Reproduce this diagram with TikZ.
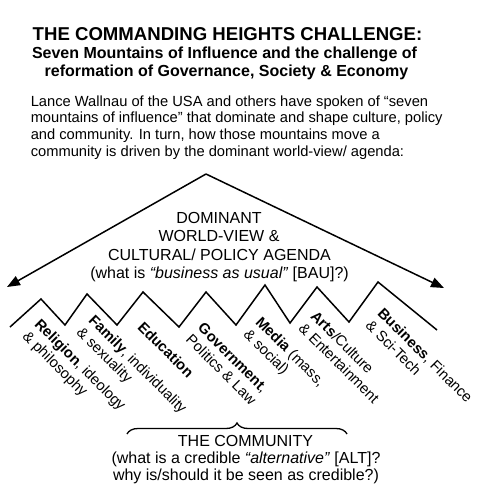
\documentclass[tikz,border=0pt]{standalone}
\usepackage{fontspec}
\setmainfont{Liberation Sans}
\usetikzlibrary{arrows.meta,decorations.pathreplacing}
\begin{document}
\begin{tikzpicture}[x=1pt,y=-1pt,line width=1.5pt,
  titlef/.style={inner sep=0pt,font=\fontsize{18.6}{22}\selectfont\bfseries},
  subf/.style={inner sep=0pt,font=\fontsize{16}{19}\selectfont\bfseries},
  parf/.style={inner sep=0pt,anchor=base west,font=\fontsize{14.7}{17}\selectfont},
  midf/.style={inner sep=0pt,anchor=base,font=\fontsize{16}{18}\selectfont},
  mlabel/.style={inner sep=0pt,anchor=north west,rotate=-45,align=left,font=\fontsize{14.8}{17}\selectfont},
  arr/.style={-{Triangle[length=13pt,width=10pt]}},
  ridge/.style={line width=1.5pt,line join=miter},
  bracef/.style={line width=1.3pt,decorate,decoration={brace,amplitude=11pt}}]
\useasboundingbox (0,0) rectangle (484,499);

% title
\node[titlef,anchor=base] (title) at (227.5,40) {THE COMMANDING HEIGHTS CHALLENGE:};
\node[subf,anchor=base] (sub1) at (224.5,58.3) {Seven Mountains of Influence and the challenge of};
\node[subf,anchor=base] (sub2) at (226.5,76.5) {reformation of Governance, Society \& Economy};

% paragraph
\node[parf] (p1) at (30,106) {Lance Wallnau of the USA and others have spoken of “seven};
\node[parf] (p2) at (30,122.7) {mountains of influence” that dominate and shape culture, policy};
\node[parf] (p3) at (30,139.5) {and community. In turn, how those mountains move a};
\node[parf] (p4) at (30,156) {community is driven by the dominant world-view/ agenda:};

% big arrows
\coordinate (apex) at (206,174);
\coordinate (ltip) at (7,287);
\coordinate (rtip) at (444,288);
\draw[arr] (apex) -- (ltip);
\draw[arr] (apex) -- (rtip);

% centre text
\node[midf] (d1) at (219,223) {DOMINANT};
\node[midf] (d2) at (219,241.7) {WORLD-VIEW \&};
\node[midf] (d3) at (219.5,260) {CULTURAL/ POLICY AGENDA};
\node[midf] (d4) at (219.5,278) {(what is \textit{“business as usual”} [BAU]?)};

% mountains
\draw[ridge] (10,327) -- (41,299) -- (65,325) -- (87,294) -- (117,325) -- (143,292)
  -- (179,327) -- (206,292) -- (236,325) -- (265,285) -- (290,323) -- (317,287)
  -- (349,322) -- (378,282) -- (437,330);

% mountain labels
\node[mlabel] (rel) at (41.5,316.5) {\textbf{Religion}, ideology\\\& philosophy};
\node[mlabel] (fam) at (95.5,312.5) {\textbf{Family}, individuality\\\& sexuality};
\node[mlabel] (edu) at (144.5,319.5) {\textbf{Education}};
\node[mlabel] (gov) at (204.5,320.5) {\textbf{Government},\\Politics \& Law};
\node[mlabel] (med) at (262.5,314.5) {\textbf{Media} (mass,\\\& social)};
\node[mlabel] (art) at (317.5,308.5) {\textbf{Arts}/Culture\\\& Entertainment};
\node[mlabel] (bus) at (384.5,305.5) {\textbf{Business}, Finance\\\& Sci-Tech};

% brace and community text
\coordinate (bl) at (127,434);
\coordinate (br) at (347,434);
\draw[bracef] (bl) -- (br);
\node[midf] (c1) at (245.5,446) {THE COMMUNITY};
\node[midf] (c2) at (246,463) {(what is a credible \textit{“alternative”} [ALT]?};
\node[midf] (c3) at (246,480.5) {why is/should it be seen as credible?)};
\end{tikzpicture}
\end{document}
